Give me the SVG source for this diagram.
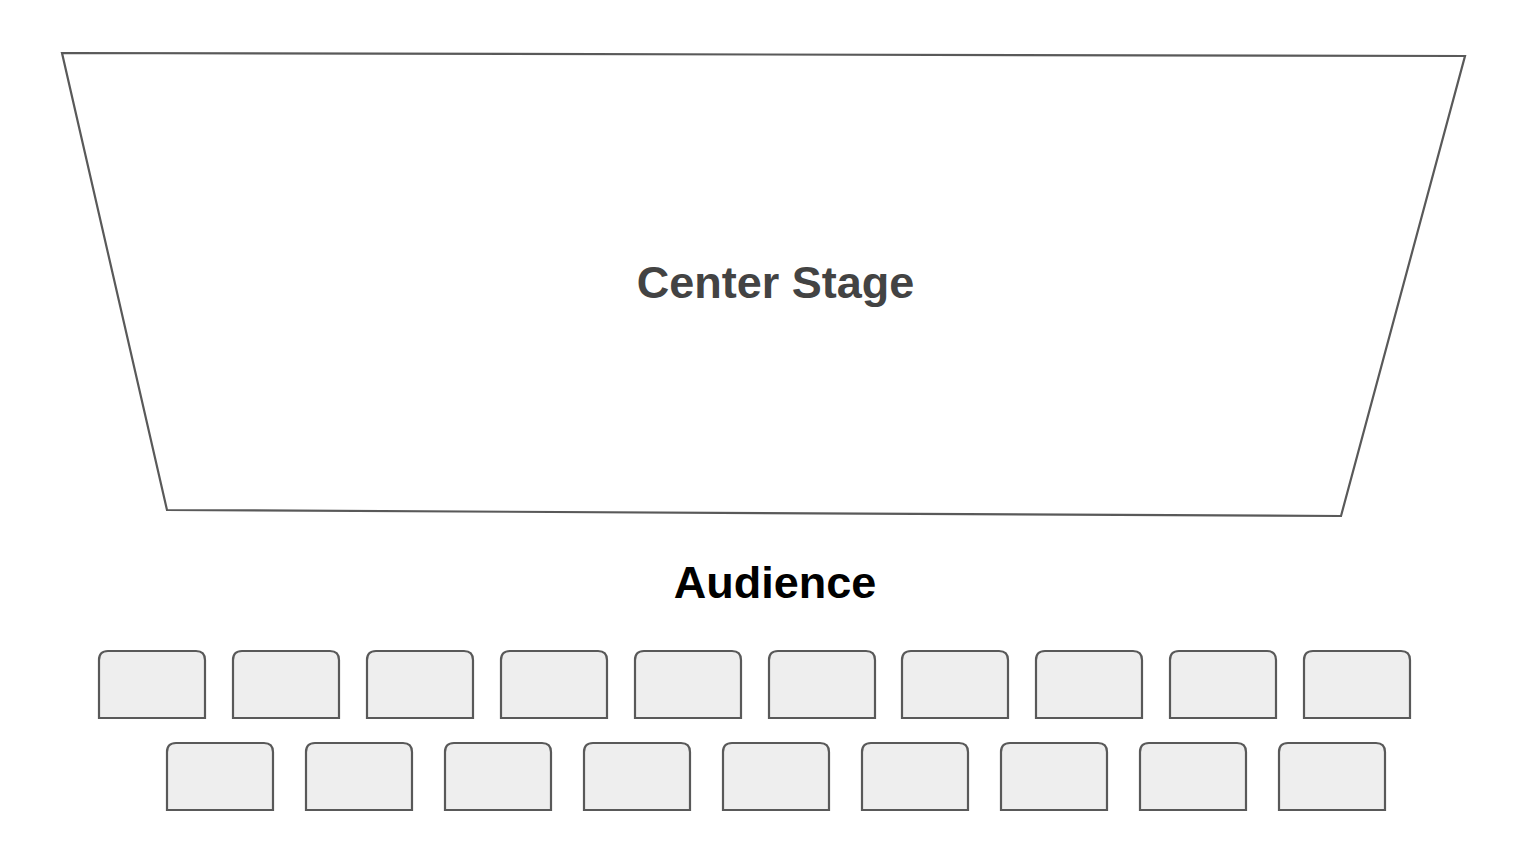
<svg xmlns="http://www.w3.org/2000/svg" width="1536" height="862" viewBox="0 0 1536 862">
<style>
.seat{fill:#eeeeee;stroke:#595959;stroke-width:2.2}
.stage{fill:#ffffff;stroke:#595959;stroke-width:2.2;stroke-linejoin:miter}
.t{font-family:"Liberation Sans",Arial,sans-serif;font-weight:bold;font-size:45px;text-anchor:middle}
</style>
<defs>
<path id="s" d="M0,67 V9 Q0,0 9,0 H97 Q106,0 106,9 V67 Z"/>
</defs>
<rect width="1536" height="862" fill="#ffffff"/>
<g id="stage">
<polygon class="stage" points="62,53 1465,56 1341,516 167,510"/>
<text class="t" x="775.5" y="298" fill="#434343">Center Stage</text>
</g>
<g id="audience-label">
<text class="t" x="775" y="598" fill="#000000">Audience</text>
</g>
<g id="row1">
<use href="#s" class="seat" x="99" y="651"/>
<use href="#s" class="seat" x="233" y="651"/>
<use href="#s" class="seat" x="367" y="651"/>
<use href="#s" class="seat" x="501" y="651"/>
<use href="#s" class="seat" x="635" y="651"/>
<use href="#s" class="seat" x="769" y="651"/>
<use href="#s" class="seat" x="902" y="651"/>
<use href="#s" class="seat" x="1036" y="651"/>
<use href="#s" class="seat" x="1170" y="651"/>
<use href="#s" class="seat" x="1304" y="651"/>
</g>
<g id="row2">
<use href="#s" class="seat" x="167" y="743"/>
<use href="#s" class="seat" x="306" y="743"/>
<use href="#s" class="seat" x="445" y="743"/>
<use href="#s" class="seat" x="584" y="743"/>
<use href="#s" class="seat" x="723" y="743"/>
<use href="#s" class="seat" x="862" y="743"/>
<use href="#s" class="seat" x="1001" y="743"/>
<use href="#s" class="seat" x="1140" y="743"/>
<use href="#s" class="seat" x="1279" y="743"/>
</g>
<g id="connectors"></g>
</svg>
